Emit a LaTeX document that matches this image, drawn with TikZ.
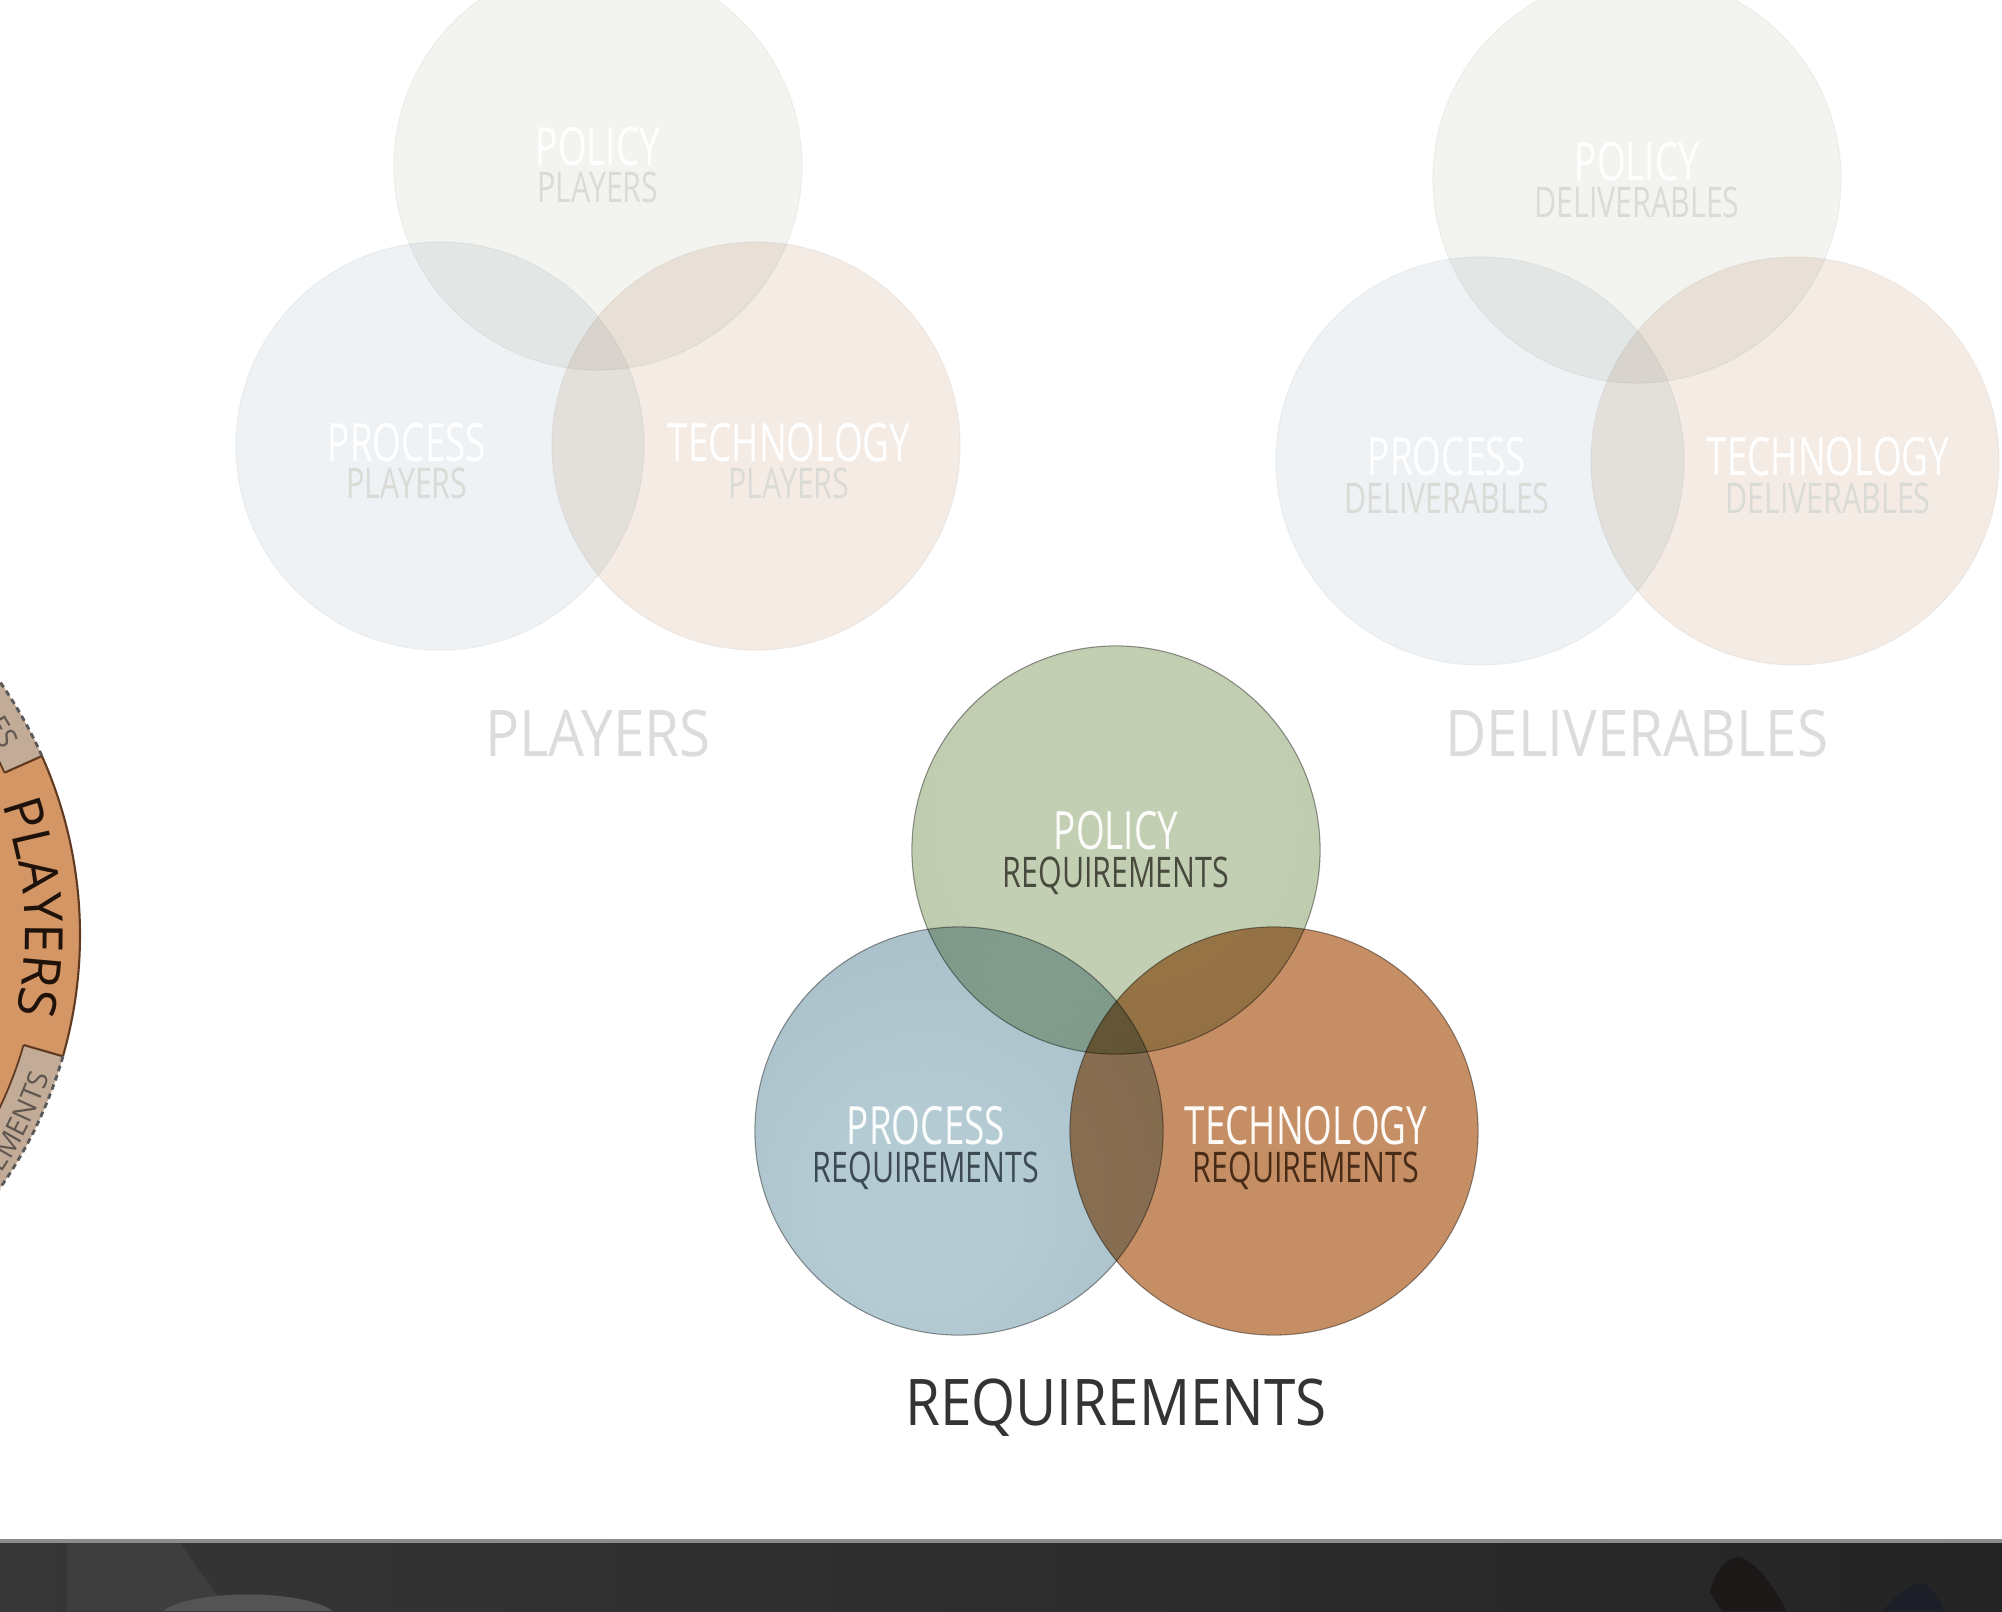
\documentclass[tikz,border=0pt]{standalone}
\usepackage{fontspec}
\setmainfont{Open Sans}
\newfontfamily\condensedfont[FakeStretch=0.70]{Open Sans}
\newfontfamily\subfont[FakeStretch=0.72]{Open Sans}
\newfontfamily\headfont[FakeStretch=0.88]{Open Sans}
\usetikzlibrary{decorations.text}

\definecolor{reqPolicy}{RGB}{190,203,173}
\definecolor{reqPolicyIn}{RGB}{194,207,178}
\definecolor{reqPolicyOut}{RGB}{172,184,153}
\definecolor{reqProcess}{RGB}{170,192,200}
\definecolor{reqProcessIn}{RGB}{180,203,212}
\definecolor{reqProcessOut}{RGB}{154,175,185}
\definecolor{reqTech}{RGB}{198,142,100}
\definecolor{reqTechIn}{RGB}{198,142,100}
\definecolor{reqTechOut}{RGB}{189,133,92}
\definecolor{palePolicy}{RGB}{243,244,240}
\definecolor{paleProcess}{RGB}{238,242,245}
\definecolor{paleTech}{RGB}{244,235,228}
\definecolor{paleText}{RGB}{218,218,215}
\definecolor{titleGrey}{RGB}{220,220,220}
\definecolor{titleDark}{RGB}{52,52,52}
\definecolor{policyText}{RGB}{72,74,62}
\definecolor{processText}{RGB}{60,74,82}
\definecolor{techText}{RGB}{72,44,24}
\definecolor{wheelOrange}{RGB}{212,150,100}
\definecolor{wheelGrey}{RGB}{194,172,152}
\definecolor{wheelLine}{RGB}{95,58,32}
\definecolor{wheelText}{RGB}{30,18,10}
\definecolor{ringText}{RGB}{96,86,80}
\definecolor{barLeft}{RGB}{54,54,54}
\definecolor{barRight}{RGB}{36,36,36}
\definecolor{barLight}{RGB}{62,62,62}
\definecolor{barDome}{RGB}{84,84,84}
\definecolor{barShadow}{RGB}{28,24,24}
\definecolor{barNavy}{RGB}{28,30,40}

\pgfdeclareradialshading{policyGlow}{\pgfpoint{0bp}{6bp}}{color(0bp)=(reqPolicyIn); color(20bp)=(reqPolicyIn); color(56bp)=(reqPolicyOut)}
\pgfdeclareradialshading{processGlow}{\pgfpoint{-6bp}{-12bp}}{color(0bp)=(reqProcessIn); color(12bp)=(reqProcessIn); color(62bp)=(reqProcessOut)}
\pgfdeclareradialshading{techGlow}{\pgfpoint{0bp}{0bp}}{color(0bp)=(reqTechIn); color(25bp)=(reqTechIn); color(50bp)=(reqTechOut)}

\begin{document}
\begin{tikzpicture}[x=0.01cm, y=-0.01cm,
  req_circle/.style={circle, inner sep=0pt, minimum size=4.08cm, draw=black!40, line width=0.3pt, shading=#1, blend mode=multiply},
  pale_circle/.style={circle, inner sep=0pt, minimum size=4.08cm, draw=black!4, line width=0.3pt, fill=#1, blend mode=multiply},
  top_word/.style={anchor=base, inner sep=0pt, font=\condensedfont\fontsize{15}{18}\selectfont, text=#1},
  sub_word/.style={anchor=base, inner sep=0pt, font=\subfont\fontsize{12}{14}\selectfont, text=#1},
  set_title/.style={anchor=base, inner sep=0pt, font=\headfont\fontsize{18.3}{22}\selectfont, text=#1}]

  \useasboundingbox (0,0) rectangle (2002,1611);
  \clip (0,0) rectangle (2002,1611);
  \fill[white] (0,0) rectangle (2002,1611);

  % players set
  \node[pale_circle=palePolicy] (plPolicy) at (598,166) {};
  \node[pale_circle=paleProcess] (plProcess) at (440,446) {};
  \node[pale_circle=paleTech] (plTech) at (756,446) {};
  \node[top_word=white] (plPolicyA) at (598,165) {POLICY};
  \node[sub_word=paleText] (plPolicyB) at (598,202) {PLAYERS};
  \node[top_word=white] (plProcessA) at (407,461) {PROCESS};
  \node[sub_word=paleText] (plProcessB) at (407,498) {PLAYERS};
  \node[top_word=white] (plTechA) at (789,461) {TECHNOLOGY};
  \node[sub_word=paleText] (plTechB) at (789,498) {PLAYERS};
  \node[set_title=titleGrey] (plTitle) at (598,756) {PLAYERS};

  % deliverables set
  \node[pale_circle=palePolicy] (dlPolicy) at (1637,179) {};
  \node[pale_circle=paleProcess] (dlProcess) at (1480,461) {};
  \node[pale_circle=paleTech] (dlTech) at (1795,461) {};
  \node[top_word=white] (dlPolicyA) at (1637,180) {POLICY};
  \node[sub_word=paleText] (dlPolicyB) at (1637,217) {DELIVERABLES};
  \node[top_word=white] (dlProcessA) at (1447,475) {PROCESS};
  \node[sub_word=paleText] (dlProcessB) at (1447,513) {DELIVERABLES};
  \node[top_word=white] (dlTechA) at (1828,475) {TECHNOLOGY};
  \node[sub_word=paleText] (dlTechB) at (1828,513) {DELIVERABLES};
  \node[set_title=titleGrey] (dlTitle) at (1637,756) {DELIVERABLES};

  % requirements set
  \node[req_circle=policyGlow] (rqPolicy) at (1116,850) {};
  \node[req_circle=processGlow] (rqProcess) at (959,1131) {};
  \node[req_circle=techGlow] (rqTech) at (1274,1131) {};
  \node[top_word=white!95!reqPolicy] (rqPolicyA) at (1116,849) {POLICY};
  \node[sub_word=policyText] (rqPolicyB) at (1116,887) {REQUIREMENTS};
  \node[top_word=white!95!reqProcess] (rqProcessA) at (926,1144) {PROCESS};
  \node[sub_word=processText] (rqProcessB) at (926,1182) {REQUIREMENTS};
  \node[top_word=white!95!reqTech] (rqTechA) at (1306,1144) {TECHNOLOGY};
  \node[sub_word=techText] (rqTechB) at (1306,1182) {REQUIREMENTS};
  \node[set_title=titleDark] (rqTitle) at (1116,1425) {REQUIREMENTS};

  % wheel at the left edge
  \begin{scope}[shift={(-360,935)}]
    \fill[wheelOrange] (0,0) circle (440);
    \fill[wheelGrey] (-24:399) -- (-24:440) arc[start angle=-24, end angle=-90, radius=440]
      -- (-90:399) arc[start angle=-90, end angle=-24, radius=399] -- cycle;
    \fill[wheelGrey] (16:399) -- (16:440) arc[start angle=16, end angle=90, radius=440]
      -- (90:399) arc[start angle=90, end angle=16, radius=399] -- cycle;
    \draw[wheelLine, line width=0.6pt] (-24:399) -- (-24:440) (16:399) -- (16:440);
    \draw[wheelLine, line width=0.6pt] (-24:440) arc[start angle=-24, end angle=16, radius=440];
    \draw[wheelLine, line width=0.5pt] (-24:399) arc[start angle=-24, end angle=-90, radius=399];
    \draw[wheelLine, line width=0.5pt] (16:399) arc[start angle=16, end angle=90, radius=399];
    \draw[black!65, line width=0.8pt, dash pattern=on 1.6pt off 1.2pt] (-24:440) arc[start angle=-24, end angle=-90, radius=440];
    \draw[black!65, line width=0.8pt, dash pattern=on 1.6pt off 1.2pt] (16:440) arc[start angle=16, end angle=90, radius=440];
    \path[decorate, decoration={text along path, text align=center, text color=wheelText,
      text={|\fontsize{15}{18}\selectfont|PLAYERS}}]
      (-24:385) arc[start angle=-24, end angle=16, radius=385];
    \path[decorate, decoration={text along path, text align=right, text color=ringText,
      text={|\fontsize{8}{10}\selectfont|DELIVERABLES}}]
      (-85:406) arc[start angle=-85, end angle=-27, radius=406];
    \path[decorate, decoration={text along path, text align=right, text color=ringText,
      text={|\fontsize{8}{10}\selectfont|REQUIREMENTS}}]
      (85:433) arc[start angle=85, end angle=19, radius=433];
  \end{scope}

  % dark band at the bottom
  \fill[left color=barLeft, right color=barRight] (0,1541) rectangle (2002,1611);
  \fill[barLight] (67,1543) -- (180,1543) -- (228,1611) -- (67,1611) -- cycle;
  \fill[barDome] (163,1611) .. controls (190,1590) and (300,1588) .. (333,1611) -- cycle;
  \fill[barShadow] (1710,1592) .. controls (1715,1570) and (1728,1556) .. (1740,1557)
    .. controls (1760,1565) and (1775,1590) .. (1787,1611) -- (1722,1611) -- cycle;
  \fill[barNavy] (1883,1611) .. controls (1895,1595) and (1910,1583) .. (1922,1583)
    .. controls (1930,1585) and (1938,1598) .. (1945,1611) -- cycle;
  \draw[black!45, line width=1.2pt] (0,1541) -- (2002,1541);
\end{tikzpicture}
\end{document}
